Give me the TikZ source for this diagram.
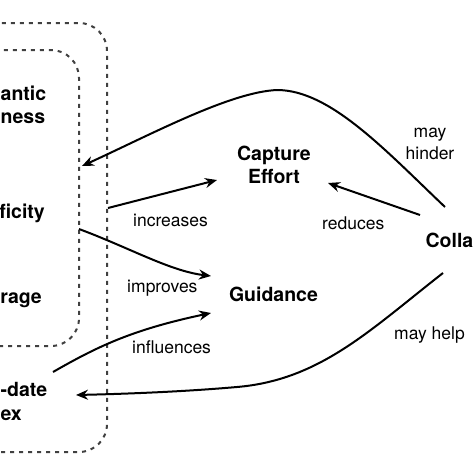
\documentclass[tikz,border=0pt]{standalone}
\usepackage{fontspec}
\setmainfont{TeX Gyre Heros}
\usetikzlibrary{arrows.meta}
\begin{document}
\begin{tikzpicture}[x=1pt,y=-1pt,
  concept/.style={font=\fontsize{19.5}{23}\selectfont\bfseries, inner sep=0pt, align=center},
  lbl/.style={font=\fontsize{17.5}{21.5}\selectfont, inner sep=0pt, align=center},
  group/.style={draw=black!75, line width=2pt, dash pattern=on 4pt off 5pt, rounded corners=28pt},
  link/.style={line width=2pt, -{Stealth[length=12pt,width=10pt,inset=4pt]}}]
\useasboundingbox (0,0) rectangle (474,474);
\clip (0,0) rectangle (474,474);
\fill[white] (0,0) rectangle (474,474);
% groups
\draw[group] (-60,23) rectangle (107,452);
\draw[group] (-60,50) rectangle (79,346);
% concepts (cropped by the picture's edge)
\node[concept, anchor=base west] (sem1) at (0.5,100) {antic};
\node[concept, anchor=base west] (sem2) at (0.5,123) {ness};
\node[concept, anchor=base east] (spec) at (45,218) {ficity};
\node[concept, anchor=base east] (cov) at (42,303) {rage};
\node[concept, anchor=base west] (upd1) at (0.5,396) {-date};
\node[concept, anchor=base east] (upd2) at (22,420) {ex};
\node[concept, anchor=base] (cap) at (274,183) {Capture\\Effort};
\node[concept, anchor=base] (gui) at (273.5,301) {Guidance};
\node[concept, anchor=base east] (col) at (473.5,247) {Colla};
% anchor coordinates
\coordinate (hinS) at (445,207);
\coordinate (hinP) at (277,90);
\coordinate (hinE) at (82,166);
\coordinate (incS) at (108,208);
\coordinate (incE) at (217,180);
\coordinate (impS) at (79,229);
\coordinate (impE) at (211,276);
\coordinate (infS) at (53,372);
\coordinate (infE) at (211,313);
\coordinate (redS) at (420,215);
\coordinate (redE) at (328,183);
\coordinate (helS) at (443,273);
\coordinate (helM) at (237,387);
\coordinate (helE) at (76,395);
% links
\draw[link] (hinS) .. controls (385,150) and (330,90) .. (hinP) .. controls (230,92) and (150,135) .. (hinE);
\draw[link] (incS) -- (incE);
\draw[link] (impS) .. controls (130,248) and (170,271) .. (impE);
\draw[link] (infS) .. controls (95,348) and (130,330) .. (infE);
\draw[link] (redS) -- (redE);
\draw[link] (helS) .. controls (370,330) and (320,380) .. (helM) .. controls (180,392) and (120,394) .. (helE);
% labels
\node[lbl, anchor=base] (lhin) at (430,159) {may\\hinder};
\node[lbl, anchor=base west] (linc) at (133,226) {increases};
\node[lbl, anchor=base west] (limp) at (127,292) {improves};
\node[lbl, anchor=base west] (linf) at (132,353) {influences};
\node[lbl, anchor=base west] (lred) at (322,229) {reduces};
\node[lbl, anchor=base west] (lhel) at (394,339) {may help};
\end{tikzpicture}
\end{document}
